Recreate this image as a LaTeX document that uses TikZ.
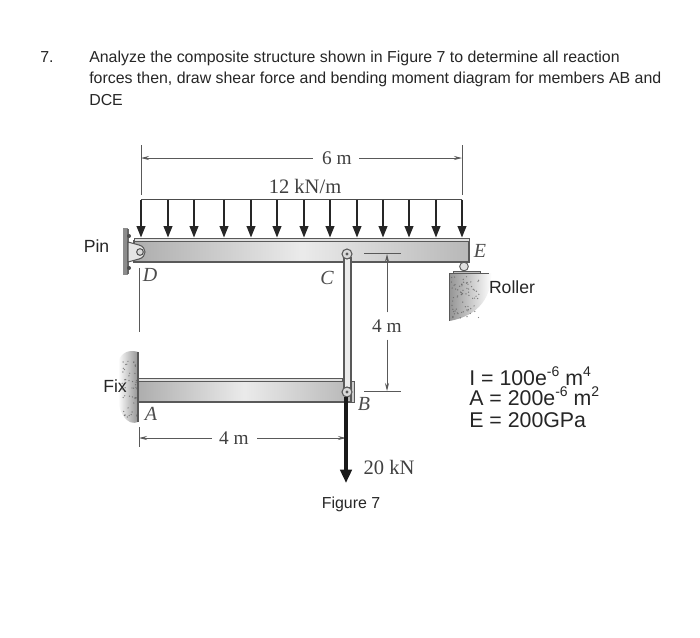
\documentclass[tikz,border=0pt]{standalone}
\usepackage{fontspec}
\setmainfont{Liberation Sans}
\newfontfamily\figserif{Liberation Serif}
\usetikzlibrary{arrows.meta}
\newcommand{\supr}[1]{\smash{\raisebox{0.4em}{\fontsize{10.5pt}{11pt}\selectfont #1}}}
\tikzset{
 x=0.75pt,y=-0.75pt,
 para/.style={anchor=base west,inner sep=0,font=\fontsize{11.93pt}{13pt}\selectfont,text=black!85},
 side/.style={inner sep=0,font=\fontsize{13.2pt}{15pt}\selectfont,text=black!85},
 props/.style={anchor=base west,inner sep=0,font=\fontsize{16pt}{18pt}\selectfont,text=black!85},
 dimtext/.style={inner sep=0,font=\figserif\fontsize{14.5pt}{16pt}\selectfont,text=black!75},
 bigdim/.style={inner sep=0,font=\figserif\fontsize{15.4pt}{17pt}\selectfont,text=black!75},
 letter/.style={inner sep=0,font=\figserif\itshape\fontsize{15pt}{16pt}\selectfont,text=black!70},
 dimline/.style={draw=black!65,line width=0.6pt},
 dimarrow/.style={dimline,-{Stealth[length=6pt,width=3pt]}},
 loadarrow/.style={draw=black!85,line width=1.1pt,-{Triangle[length=8.5pt,width=6.5pt]}},
 beam/.style={draw=black!65,line width=0.9pt,left color=black!32,right color=black!28,middle color=black!8},
 flange/.style={draw=black!65,line width=0.7pt,fill=black!12},
 pinshape/.style={circle,draw=black!65,line width=0.8pt,fill=black!15,minimum size=7.5pt,inner sep=0},
 speck/.style={fill=black!60,opacity=0.8},
}
\begin{document}
\begin{tikzpicture}
\useasboundingbox (0,0) rectangle (700,637);
\fill[white] (0,0) rectangle (700,637);

% question text
\node[para] (num) at (40,62.3) {7.};
\node[para] (l1) at (89,62.3) {Analyze the composite structure shown in Figure 7 to determine all reaction};
\node[para] (l2) at (89,83.5) {forces then, draw shear force and bending moment diagram for members AB and};
\node[para] (l3) at (89,105.7) {DCE};

% ground patches
\shade[left color=white,middle color=black!36,right color=black!42] (118,362) .. controls (122,350) and (132,350) .. (138,352) -- (138,422) .. controls (128,426) and (120,415) .. (118,400) -- cycle;
\shade[left color=black!42,middle color=black!38,right color=white] (449,273) -- (491,273) .. controls (492,295) and (480,316) .. (449,321) -- cycle;
\pgfmathsetseed{42}
\foreach \i in {1,...,70}{
  \pgfmathsetmacro{\px}{451+rnd*28}
  \pgfmathsetmacro{\py}{276+rnd*42}
  \fill[speck] (\px,\py) circle[radius=0.7];
}
\foreach \i in {1,...,50}{
  \pgfmathsetmacro{\px}{122+rnd*15}
  \pgfmathsetmacro{\py}{356+rnd*62}
  \fill[speck] (\px,\py) circle[radius=0.7];
}
\draw[black!65,line width=0.7pt] (449,273) -- (449,321);
\draw[black!65,line width=0.7pt] (449,273) -- (489,273);
\draw[black!65,line width=0.9pt] (138,352) -- (138,422);

% top beam DCE
\path[beam] (134,241) rectangle (469,262);
\path[flange] (134,238) rectangle (469,241);

% pin at D
\fill[black!45] (122.5,228) rectangle (128,275);
\draw[black!60,line width=0.8pt] (128,229) -- (128,274);
\fill[black!70] (129,236) circle[radius=2] (129,268) circle[radius=2];
\path[draw=black!65,fill=black!10,line width=0.8pt] (128,242) -- (139,245) .. controls (147,247) and (147,257) .. (139,259) -- (128,262) -- cycle;
\node[pinshape,minimum size=5pt] (pinD) at (140,252) {};

% bottom beam AB
\path[beam] (138,381) rectangle (351,402);
\path[flange] (138,378) rectangle (342,381);
\path[draw=black!65,fill=black!20,line width=0.7pt] (351,381) rectangle (354,402);

% vertical member CB
\path[draw=black!65,fill=black!8,line width=0.8pt] (344,258) rectangle (351,388);

% pins C, B
\node[pinshape] (pinC) at (347,254) {};
\node[circle,fill=black!65,minimum size=2.5pt,inner sep=0] (pinCc) at (347,254) {};
\node[pinshape] (pinB) at (347,392) {};
\node[circle,fill=black!65,minimum size=2.5pt,inner sep=0] (pinBc) at (347,392) {};

% roller at E
\node[circle,draw=black!65,fill=black!12,line width=0.7pt,minimum size=6.5pt,inner sep=0] (roller) at (464,266.5) {};
\path[draw=black!65,fill=black!25,line width=0.6pt] (453,271) rectangle (480,273);

% distributed load
\coordinate (q1) at (141,199.5); \coordinate (q2) at (462,199.5);
\draw[black!70,line width=0.7pt] (q1) -- (q2);
\foreach \x in {141,168,194,224,251,277,304,330,357,383,409,436,462}{
  \coordinate (top) at (\x,199.5);
  \coordinate (tip) at (\x,237.5);
  \draw[loadarrow] (top) -- (tip);
}

% dimension 6 m
\coordinate (a1) at (141,145); \coordinate (a2) at (141,195);
\coordinate (b1) at (462,145); \coordinate (b2) at (462,195);
\draw[dimline] (a1) -- (a2);
\draw[dimline] (b1) -- (b2);
\node[dimtext] (six) at (337,158) {6 m};
\coordinate (sixL) at (141,158); \coordinate (sixR) at (462,158);
\draw[dimarrow] (six.west) ++(-9,0) -- (sixL);
\draw[dimarrow] (six.east) ++(7,0) -- (sixR);
\node[bigdim] (load) at (305,186) {12 kN/m};

% dimension 4 m vertical
\coordinate (t1) at (364,253); \coordinate (t2) at (401,253);
\coordinate (u1) at (364,391); \coordinate (u2) at (401,391);
\draw[dimline] (t1) -- (t2);
\draw[dimline] (u1) -- (u2);
\node[dimtext] (fourv) at (387,326) {4 m};
\coordinate (ttip) at (387,254); \coordinate (utip) at (387,391);
\draw[dimarrow] (fourv.north) ++(0,-7) -- (ttip);
\draw[dimarrow] (fourv.south) ++(0,7) -- (utip);

% dimension 4 m horizontal
\coordinate (d1) at (139,268); \coordinate (d2) at (139,332);
\draw[dimline] (d1) -- (d2);
\coordinate (e1) at (139,427); \coordinate (e2) at (139,447);
\draw[dimline] (e1) -- (e2);
\node[dimtext] (fourh) at (234,438) {4 m};
\coordinate (hL) at (139,438); \coordinate (hR) at (346,438);
\draw[dimarrow] (fourh.west) ++(-7,0) -- (hL);
\draw[dimarrow] (fourh.east) ++(8,0) -- (hR);

% 20 kN force
\coordinate (fTop) at (346,397); \coordinate (fTip) at (346,483);
\draw[black!90,line width=3pt,-{Triangle[length=10pt,width=8.5pt,sep=0pt]}] (fTop) -- (fTip);
\node[bigdim] (force) at (389,467) {20 kN};

% letters
\node[letter] (D) at (150,275) {D};
\node[letter] (C) at (327,278) {C};
\node[letter] (E) at (480,251) {E};
\node[letter] (A) at (151,414) {A};
\node[letter] (B) at (364,404) {B};

% sans labels
\node[side] (pin) at (96.5,246) {Pin};
\node[side] (fix) at (115,386) {Fix};
\node[side] (rollerL) at (512,287) {Roller};
\node[para,anchor=center] (fig) at (351,504) {Figure 7};

% properties
\node[props] (pI) at (469,385) {I = 100e\supr{-6} m\supr{4}};
\node[props] (pA) at (469,405.5) {A = 200e\supr{-6} m\supr{2}};
\node[props] (pE) at (469,427) {E = 200GPa};
\end{tikzpicture}
\end{document}
